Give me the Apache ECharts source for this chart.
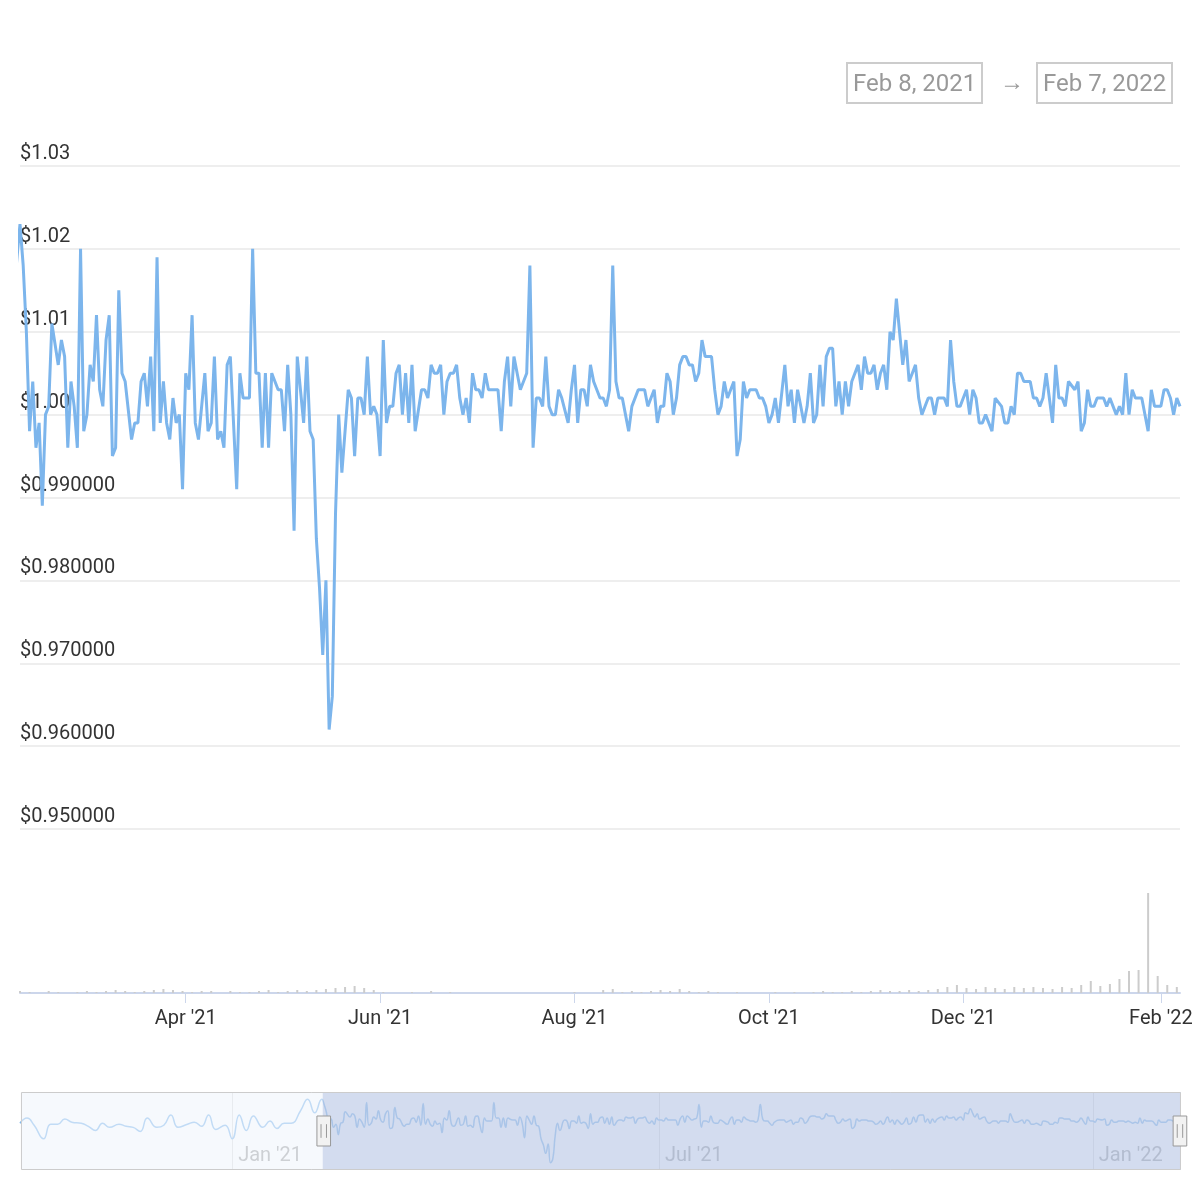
<!DOCTYPE html>
<html>
<head>
<meta charset="utf-8">
<script src="https://cdn.jsdelivr.net/npm/echarts@6/dist/echarts.min.js"></script>
<style>
  body { margin: 0; background: #fff; font-family: Roboto, sans-serif; }
  #chart { width: 1200px; height: 1200px; }
  .range { position: absolute; top: 62px; height: 38px; line-height: 38px; border: 2px solid #ccc;
           color: #999; font-size: 24px; padding: 0 5px; font-family: Roboto, sans-serif; }
  #arrow { position: absolute; top: 62px; left: 1000px; line-height: 40px; color: #999; font-size: 24px; }
</style>
</head>
<body>
<div id="chart"></div>
<div class="range" style="left:846px">Feb 8, 2021</div>
<div id="arrow">→</div>
<div class="range" style="left:1036px">Feb 7, 2022</div>
<script>
// earlier history shown only in the navigator (Oct 3 2020 -> Feb 5 2021)
const earlyPrices = [1.000, 1.005, 0.998, 0.985, 0.999, 0.999, 1.004, 1.001, 1.000, 0.997, 0.993, 1.000, 0.996,
  0.999, 0.997, 0.996, 0.992, 1.005, 0.996, 0.998, 1.008, 0.996, 0.999, 1.001, 0.997, 1.008, 0.994, 0.998,
  0.985, 1.008, 0.993, 1.007, 0.996, 1.002, 0.995, 1.000, 1.000, 1.012, 1.023, 1.010];

// visible window, Feb 8 2021 -> Feb 7 2022
const prices = [
  1.023, 1.018, 1.010, 0.998, 1.004, 0.996, 0.999, 0.989, 1.000, 1.001, 1.011, 1.006, 1.009, 1.007, 0.996,
  1.004, 1.001, 0.996, 1.020, 0.998, 1.000, 1.006, 1.004, 1.012, 1.003, 1.001, 1.009, 1.012, 0.995, 0.996,
  1.015, 1.005, 1.004, 0.997, 0.999, 0.999, 1.004, 1.005, 1.001, 1.007, 0.998, 1.019, 0.999, 1.004, 0.999,
  0.997, 1.002, 0.999, 1.000, 0.991, 1.005, 1.003, 1.012, 0.999, 0.997, 1.005, 0.998, 0.999, 1.007, 0.997,
  0.998, 0.996, 1.006, 1.007, 0.999, 0.991, 1.005, 1.002, 1.002, 1.002, 1.020, 1.005, 1.005, 0.996, 1.005,
  0.996, 1.005, 1.003, 1.003, 0.998, 1.006, 1.000,
  0.986, 1.007, 1.003, 0.999, 1.007, 0.998, 0.997, 0.985, 0.979, 0.971, 0.980, 0.962, 0.966, 0.988, 1.000,
  0.993, 1.003, 1.002, 0.995, 1.002, 1.002, 1.000, 1.007, 1.000, 1.001, 1.000, 0.995, 1.009, 0.999, 1.001,
  1.001, 1.005, 1.006, 1.000, 1.005, 0.999, 1.006, 0.998, 1.003, 1.003, 1.002, 1.006, 1.005, 1.005, 1.006,
  1.000, 1.004, 1.005, 1.005, 1.006, 1.002, 1.000, 1.002, 0.999, 1.005, 1.003, 1.003, 1.002, 1.005, 1.003,
  1.003, 1.003, 0.998, 1.004, 1.007, 1.001, 1.007, 1.005, 1.003, 1.004, 1.005, 1.018, 0.996, 1.002, 1.002,
  1.001, 1.007, 1.001, 1.000, 1.000, 1.003, 1.002, 0.999, 1.003, 1.006, 0.999,
  1.003, 1.003, 1.001, 1.006, 1.004, 1.003, 1.002, 1.002, 1.001, 1.003, 1.018, 1.004, 1.002, 1.002, 1.000,
  0.998, 1.001, 1.003, 1.003, 1.003, 1.001, 1.002, 1.003, 0.999, 1.001, 1.001, 1.005, 1.004, 1.000, 1.002,
  1.006, 1.007, 1.007, 1.006, 1.006, 1.004, 1.005, 1.009, 1.007, 1.007, 1.003, 1.000, 1.001, 1.004, 1.002,
  1.003, 1.004, 0.995, 0.997, 1.004, 1.002, 1.003, 1.003, 1.003, 1.002, 1.002, 1.001, 0.999, 1.000, 1.002,
  0.999, 1.006, 1.001, 1.003, 0.999, 1.003, 1.001, 0.999, 1.001, 1.005, 0.999, 1.000, 1.006, 1.001, 1.007,
  1.008, 1.008, 1.001, 1.004, 1.000, 1.004, 1.001, 1.004, 1.006, 1.003, 1.007, 1.005, 1.005, 1.006, 1.003,
  1.005, 1.006, 1.003, 1.010, 1.009, 1.014, 1.010, 1.006, 1.009, 1.004, 1.005, 1.006, 1.002, 1.000, 1.002,
  1.002, 1.000, 1.002, 1.002, 1.002, 1.001, 1.009, 1.004, 1.001, 1.001, 1.002, 1.003, 1.000, 1.003, 1.002,
  0.999, 0.999, 1.000, 0.999, 0.998, 1.002, 1.001, 0.999, 0.999, 1.001, 1.000, 1.005, 1.005, 1.004, 1.004,
  1.004, 1.002, 1.002, 1.001, 1.002, 1.005, 1.002, 0.999, 1.006, 1.002, 1.002, 1.001, 1.004, 1.003, 1.004,
  0.998, 0.999, 1.003, 1.001, 1.001, 1.002, 1.002, 1.002, 1.001, 1.002, 1.001, 1.000, 1.001, 1.000, 1.005,
  1.000, 1.003, 1.002, 1.002, 1.002, 0.998, 1.003, 1.001, 1.001, 1.001, 1.003, 1.003, 1.002, 1.000, 1.002,
  1.001];

// volume, one bar every 3 days from Feb 8 2021
const volumes = [2, 1, 0, 2, 1, 0, 1, 2, 1, 2, 3, 2, 1, 2, 3, 4, 3, 2,
  1, 2, 2, 0, 2, 1, 1, 2, 3, 1, 2, 3, 2, 3, 4, 5,
  6, 7, 5, 3, 1,
  0, 0, 1, 0, 2, 0, 1, 0, 0, 0, 0, 0, 0, 0, 0, 0, 0, 0, 0, 1, 0, 0,
  3, 4, 1, 2,
  1, 2, 3, 2, 4, 2, 1, 2, 1, 0, 1,
  0, 0, 0, 1, 0, 1, 0, 1, 2, 1, 1, 2, 1, 2, 3, 2, 2, 3, 2, 3,
  4, 6, 8, 5, 4, 6, 5, 4, 6, 5, 6, 5, 4, 6, 5,
  8, 12, 7, 9, 14, 22, 23, 100, 17, 8, 6];

const axisMonths = ['2021-04-01', '2021-06-01', '2021-08-01', '2021-10-01', '2021-12-01', '2022-02-01'];
const navMonths = ['2021-01-01', '2021-07-01', '2022-01-01'];

const DAY = 86400000;
const earlyStart = Date.UTC(2020, 9, 3), earlyEnd = Date.UTC(2021, 1, 5);
const winStart = Date.UTC(2021, 1, 8), winEnd = Date.UTC(2022, 1, 7);

const spread = (arr, a, b) => arr.map((v, i) => [a + Math.round((b - a) / (arr.length - 1) * i / DAY) * DAY, v]);
const lineData = spread(earlyPrices, earlyStart, earlyEnd).concat(spread(prices, winStart, winEnd));
const volData = volumes.map((v, i) => [winStart + i * 3 * DAY, v]);
const ts = s => new Date(s + 'T00:00:00Z').getTime();
const M = ['Jan', 'Feb', 'Mar', 'Apr', 'May', 'Jun', 'Jul', 'Aug', 'Sep', 'Oct', 'Nov', 'Dec'];
const fmtMonth = v => { const d = new Date(v); return M[d.getUTCMonth()] + " '" + String(d.getUTCFullYear()).slice(2); };

const chart = echarts.init(document.getElementById('chart'));
chart.setOption({
  animation: false,
  textStyle: { fontFamily: 'Roboto' },
  grid: [
    { left: 20, right: 20, top: 166, bottom: 371 },
    { left: 20, right: 20, top: 870, bottom: 207 },
    { left: 20, right: 20, top: 1092, bottom: 30 }
  ],
  xAxis: [
    { type: 'value', gridIndex: 0, show: false, min: 'dataMin', max: 'dataMax' },
    {
      type: 'value', gridIndex: 1, min: winStart, max: winEnd,
      axisLine: { lineStyle: { color: '#ccd6eb', width: 2 } },
      axisTick: { show: true, length: 10, lineStyle: { color: '#ccd6eb' }, customValues: axisMonths.map(ts) },
      axisLabel: { color: '#333', fontSize: 20, margin: 16, customValues: axisMonths.map(ts), formatter: fmtMonth },
      splitLine: { show: false }
    },
    {
      type: 'value', gridIndex: 2, min: earlyStart, max: winEnd,
      axisLine: { show: false }, axisTick: { show: false, customValues: navMonths.map(ts) },
      axisLabel: { inside: true, color: '#999', fontSize: 20, margin: 4, align: 'left',
        customValues: navMonths.map(ts), formatter: fmtMonth, padding: [0, 0, 0, 6] },
      splitLine: { show: true, lineStyle: { color: '#ddd' } }
    }
  ],
  yAxis: [
    {
      type: 'value', gridIndex: 0, min: 0.95, max: 1.03, interval: 0.01,
      axisLine: { show: false }, axisTick: { show: false },
      axisLabel: {
        inside: true, verticalAlign: 'bottom', margin: 0, color: '#333', fontSize: 20,
        padding: [0, 0, 2, 0],
        formatter: v => v >= 0.999 ? '$' + v.toFixed(2) : '$' + v.toFixed(6)
      },
      splitLine: { lineStyle: { color: '#eeeeee', width: 2 } }
    },
    { type: 'value', gridIndex: 1, min: 0, max: 123, show: false },
    { type: 'value', gridIndex: 2, min: 0.955, max: 1.03, show: false }
  ],
  dataZoom: [{
    type: 'slider', xAxisIndex: 0, filterMode: 'none',
    startValue: winStart, endValue: winEnd,
    left: 20, right: 20, top: 1092, height: 78,
    showDataShadow: false, showDetail: false, brushSelect: false, moveHandleSize: 0,
    backgroundColor: 'rgba(240,245,252,0.6)',
    fillerColor: 'rgba(102,133,194,0.25)',
    borderColor: '#cccccc',
    handleIcon: 'path://M0,0 h10 v22 h-10 Z M3,6 v10 M7,6 v10',
    handleSize: 30,
    handleStyle: { color: '#f2f2f2', borderColor: '#999' }
  }],
  series: [
    {
      type: 'line', xAxisIndex: 0, yAxisIndex: 0, data: lineData, showSymbol: false,
      lineStyle: { color: '#7cb5ec', width: 3 }, itemStyle: { color: '#7cb5ec' }
    },
    {
      type: 'bar', xAxisIndex: 1, yAxisIndex: 1, data: volData, barWidth: 2,
      itemStyle: { color: '#cccccc' }
    },
    {
      type: 'line', xAxisIndex: 2, yAxisIndex: 2, data: lineData, showSymbol: false, smooth: true,
      lineStyle: { color: '#7cb5ec', width: 1.5 }
    }
  ]
});
</script>
</body>
</html>
